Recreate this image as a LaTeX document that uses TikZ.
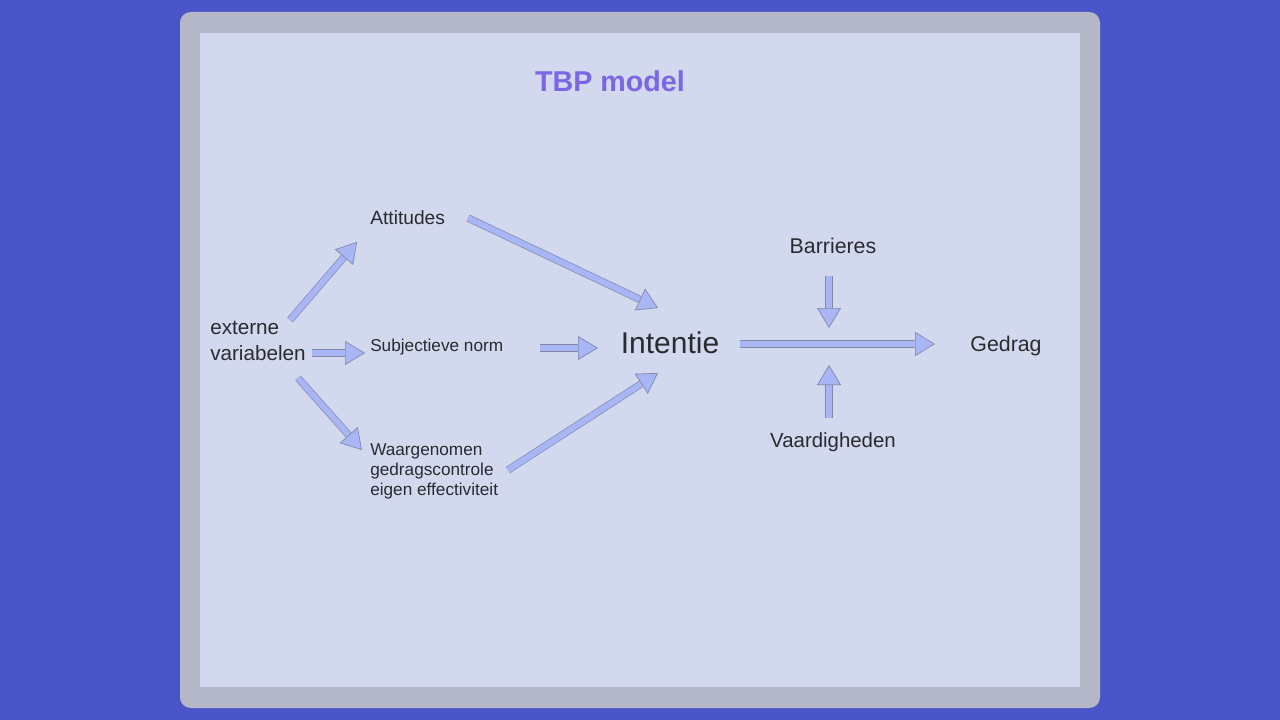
\documentclass[tikz,border=0pt]{standalone}
\usepackage{fontspec}
\setmainfont{Liberation Sans}
\usetikzlibrary{arrows.meta}
\definecolor{bgblue}{HTML}{4A55C8}
\definecolor{frame}{HTML}{B4B8C8}
\definecolor{panel}{HTML}{D2D8EE}
\definecolor{afill}{HTML}{A8B6F6}
\definecolor{aline}{HTML}{8088A8}
\definecolor{titlec}{HTML}{7B66E6}
\definecolor{txt}{HTML}{2A2A30}
\tikzset{
  lbl/.style={text=txt, font=\fontsize{14.4}{16}\selectfont, align=left, inner sep=0pt},
  barrow/.style={draw=aline, line width=0.5pt, double=afill, double distance=4.5pt,
    -{Triangle[width=18pt,length=15pt,fill=afill,color=aline,line width=0.5pt]}}
}
\begin{document}
\begin{tikzpicture}[x=0.75pt,y=-0.75pt]
\fill[bgblue] (0,0) rectangle (1280,720);
\useasboundingbox (0,0) rectangle (1280,720);
\fill[frame, rounded corners=8pt] (180,12) rectangle (1100,708);
\fill[panel] (200,33) rectangle (1080,687);
\node[text=titlec, font=\bfseries\fontsize{21.5}{24}\selectfont] (title) at (610,81) {TBP model};
\node[lbl, font=\fontsize{15.5}{17}\selectfont, anchor=west] (ext) at (210,341) {externe\\[3pt]variabelen};
\node[lbl, anchor=west] (att) at (370,218) {Attitudes};
\node[lbl, font=\fontsize{12.9}{15}\selectfont, anchor=west] (subj) at (370,347) {Subjectieve norm};
\node[lbl, font=\fontsize{12.9}{15}\selectfont, anchor=north west] (waar) at (370,443) {Waargenomen\\gedragscontrole\\eigen effectiviteit};
\node[lbl, font=\fontsize{22.5}{26}\selectfont] (int) at (670,343) {Intentie};
\node[lbl, font=\fontsize{16}{18}\selectfont] (ged) at (1006,346) {Gedrag};
\node[lbl, font=\fontsize{16}{18}\selectfont] (bar) at (833,246) {Barrieres};
\node[lbl, font=\fontsize{15.3}{17}\selectfont] (vaa) at (833,442) {Vaardigheden};
\coordinate (a1s) at (290,320); \coordinate (a1e) at (357,242);
\coordinate (a2s) at (312,353); \coordinate (a2e) at (365,353);
\coordinate (a3s) at (298,378); \coordinate (a3e) at (362,450);
\coordinate (a4s) at (468,218); \coordinate (a4e) at (658,308);
\coordinate (a5s) at (540,348); \coordinate (a5e) at (598,348);
\coordinate (a6s) at (508,470); \coordinate (a6e) at (658,373);
\coordinate (a7s) at (740,344); \coordinate (a7e) at (935,344);
\coordinate (a8s) at (829,276); \coordinate (a8e) at (829,328);
\coordinate (a9s) at (829,418); \coordinate (a9e) at (829,365);
\foreach \i in {1,...,9} {\draw[barrow] (a\i s) -- (a\i e);}
\end{tikzpicture}
\end{document}
